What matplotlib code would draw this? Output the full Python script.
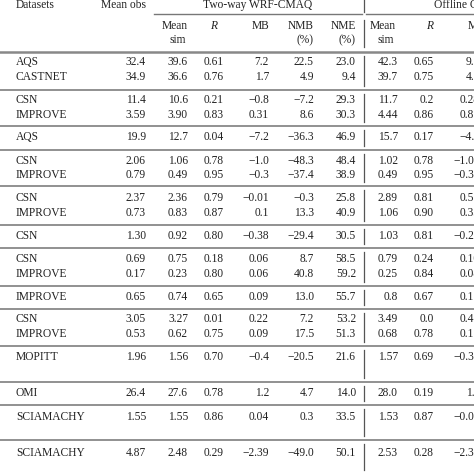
import matplotlib
matplotlib.use("Agg")
import matplotlib.pyplot as plt

datasets = ["AQS","CASTNET","CSN","IMPROVE","AQS","CSN","IMPROVE","CSN","IMPROVE","CSN",
            "CSN","IMPROVE","IMPROVE","CSN","IMPROVE","MOPITT","OMI","SCIAMACHY","SCIAMACHY"]
mean_obs = ["32.4","34.9","11.4","3.59","19.9","2.06","0.79","2.37","0.73","1.30",
            "0.69","0.17","0.65","3.05","0.53","1.96","26.4","1.55","4.87"]
tw_sim = ["39.6","36.6","10.6","3.90","12.7","1.06","0.49","2.36","0.83","0.92",
          "0.75","0.23","0.74","3.27","0.62","1.56","27.6","1.55","2.48"]
tw_r = ["0.61","0.76","0.21","0.83","0.04","0.78","0.95","0.79","0.87","0.80",
        "0.18","0.80","0.65","0.01","0.75","0.70","0.78","0.86","0.29"]
tw_mb = ["7.2","1.7","\u22120.8","0.31","\u22127.2","\u22121.0","\u22120.3","\u22120.01","0.1","\u22120.38",
         "0.06","0.06","0.09","0.22","0.09","\u22120.4","1.2","0.04","\u22122.39"]
tw_nmb = ["22.5","4.9","\u22127.2","8.6","\u221236.3","\u221248.3","\u221237.4","\u22120.3","13.3","\u221229.4",
          "8.7","40.8","13.0","7.2","17.5","\u221220.5","4.7","0.3","\u221249.0"]
tw_nme = ["23.0","9.4","29.3","30.3","46.9","48.4","38.9","25.8","40.9","30.5",
          "58.5","59.2","55.7","53.2","51.3","21.6","14.0","33.5","50.1"]
off_sim = ["42.3","39.7","11.7","4.44","15.7","1.02","0.49","2.89","1.06","1.03",
           "0.79","0.25","0.8","3.49","0.68","1.57","28.0","1.53","2.53"]
off_r = ["0.65","0.75","0.2","0.86","0.17","0.78","0.95","0.81","0.90","0.81",
         "0.24","0.84","0.67","0.0","0.78","0.69","0.19","0.87","0.28"]
off_mb = ["9.9","4.8","0.28","0.85","\u22124.2","\u22121.04","\u22120.30","0.52","0.33","\u22120.27",
          "0.10","0.08","0.15","0.44","0.15","\u22120.39","1.6","\u22120.02","\u22122.34"]

row_y = [62,77,100,115,137,161,175,198,213,236,259,274,297,319,334,357,393,417,453]
sep_y = [52,90,126,150,186,225,248,286,309,346,382,405,440]
groups = [(52,90),(90,126),(126,150),(150,186),(186,225),(225,248),(248,286),(286,309),
          (309,346),(346,382),(382,405),(405,440),(440,474)]

W = H = 474
fig = plt.figure(figsize=(4.74,4.74), dpi=100)
ax = fig.add_axes([0,0,1,1])
ax.set_xlim(0,W); ax.set_ylim(H,0); ax.axis("off")
fam = ["Liberation Serif"]
fs = 8.3
def t(x,y,s,ha="right",**k):
    ax.text(x,y,s,ha=ha,va="center",fontsize=fs,family=fam,color="#222222",clip_on=True,**k)

# headers
t(16,5,"Datasets",ha="left")
t(146,5,"Mean obs")
t(258,5,"Two-way WRF-CMAQ",ha="center")
t(434,5,"Offline CMAQ",ha="left")
ax.plot([154,362],[14,14],color="#777777",lw=1)
ax.plot([366,474],[14,14],color="#777777",lw=1)
t(175,26,"Mean",ha="center"); t(178,40,"sim",ha="center")
t(214,26,"R",ha="center",style="italic")
t(269,26,"MB"); t(314,26,"NMB"); t(314,40,"(%)")
t(356,26,"NME"); t(356,40,"(%)")
t(383,26,"Mean",ha="center"); t(386,40,"sim",ha="center")
t(430,26,"R",ha="center",style="italic")
t(468,26,"MB",ha="left")
ax.plot([364,364],[0,12],color="#555555",lw=0.9)
ax.plot([364,364],[20,47],color="#555555",lw=0.9)

cols = [(146,mean_obs),(188,tw_sim),(224,tw_r),(269,tw_mb),(314,tw_nmb),(356,tw_nme),
        (398,off_sim),(434,off_r),(480,off_mb)]
for i,y in enumerate(row_y):
    t(16,y,datasets[i],ha="left")
    for x,arr in cols:
        t(x,y,arr[i])
for y in sep_y:
    ax.plot([0,W],[y,y],color="#888888",lw=1.8 if y==52 else 1.3)
for a,b in groups:
    ax.plot([364,364],[a+4,b-4],color="#555555",lw=0.9)
fig.savefig("out.png",dpi=100)
